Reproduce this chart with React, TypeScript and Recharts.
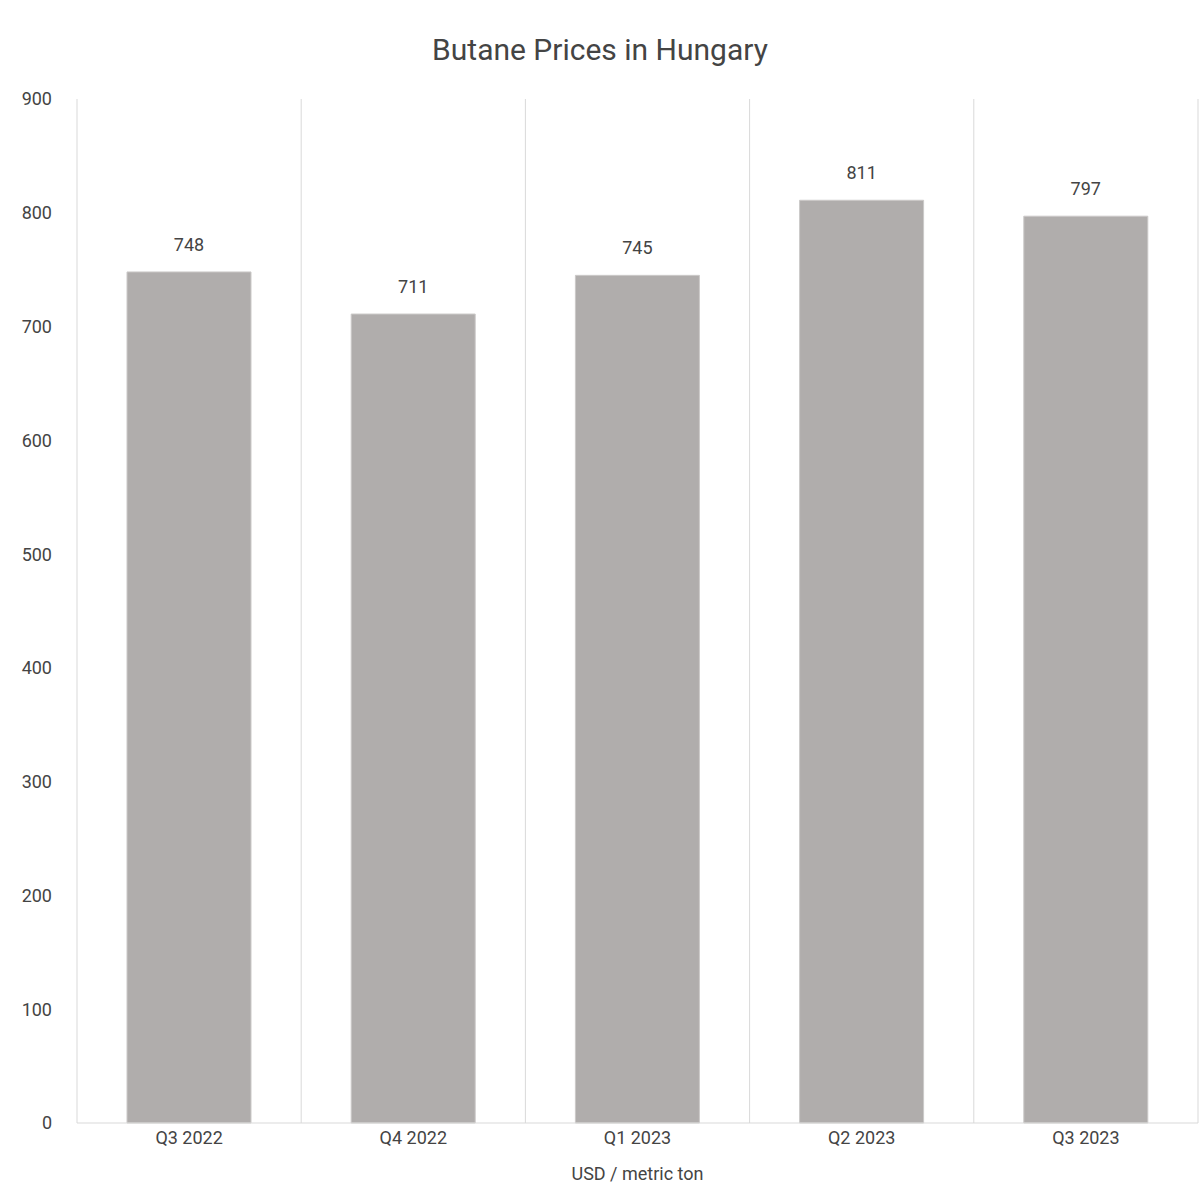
import { Bar, BarChart, LabelList, ReferenceLine, XAxis, YAxis } from "recharts";

const quarters = ["Q3 2022", "Q4 2022", "Q1 2023", "Q2 2023", "Q3 2023"];
const prices = [748, 711, 745, 811, 797];
const yTicks = [0, 100, 200, 300, 400, 500, 600, 700, 800, 900];

const FONT = "Roboto, 'Noto Sans', sans-serif";
const INK = "#444444";
const GRID = "#d9d9d9";

export default function App() {
  const data = quarters.map((q, i) => ({ quarter: q, price: prices[i] }));

  return (
    <div style={{ position: "absolute", left: 0, top: 0, width: 1200, height: 1200, background: "#fff", fontFamily: FONT }}>
      <div
        style={{
          position: "absolute",
          top: 30,
          left: 0,
          width: 1200,
          textAlign: "center",
          fontSize: 30,
          lineHeight: "40px",
          color: INK,
        }}
      >
        Butane Prices in Hungary
      </div>
      <BarChart
        width={1200}
        height={1200}
        data={data}
        margin={{ top: 99, right: 2, bottom: 0, left: 0 }}
        barCategoryGap={0}
      >
        {/* separators on the band edges of each category */}
        {quarters.map((q) => (
          <ReferenceLine key={q} x={q} position="start" stroke={GRID} strokeWidth={1} />
        ))}
        <ReferenceLine x={quarters[quarters.length - 1]} position="end" stroke={GRID} strokeWidth={1} />
        <XAxis
          dataKey="quarter"
          height={77}
          axisLine={{ stroke: GRID }}
          tickLine={false}
          tickSize={6}
          tickMargin={2}
          tick={{ fill: INK, fontSize: 18, fontFamily: FONT }}
          label={{
            value: "USD / metric ton",
            position: "insideBottom",
            offset: 20,
            fill: INK,
            fontSize: 18,
            fontFamily: FONT,
          }}
        />
        <YAxis
          width={77}
          domain={[0, 900]}
          ticks={yTicks}
          axisLine={false}
          tickLine={false}
          tickSize={6}
          tickMargin={19}
          tick={{ fill: INK, fontSize: 18, fontFamily: FONT }}
        />
        <Bar dataKey="price" fill="#b0adac" stroke="#cbc9c8" strokeWidth={1} barSize={124} isAnimationActive={false}>
          <LabelList
            dataKey="price"
            position="top"
            offset={21}
            style={{ fill: INK, fontSize: 18, fontFamily: FONT }}
          />
        </Bar>
      </BarChart>
    </div>
  );
}
